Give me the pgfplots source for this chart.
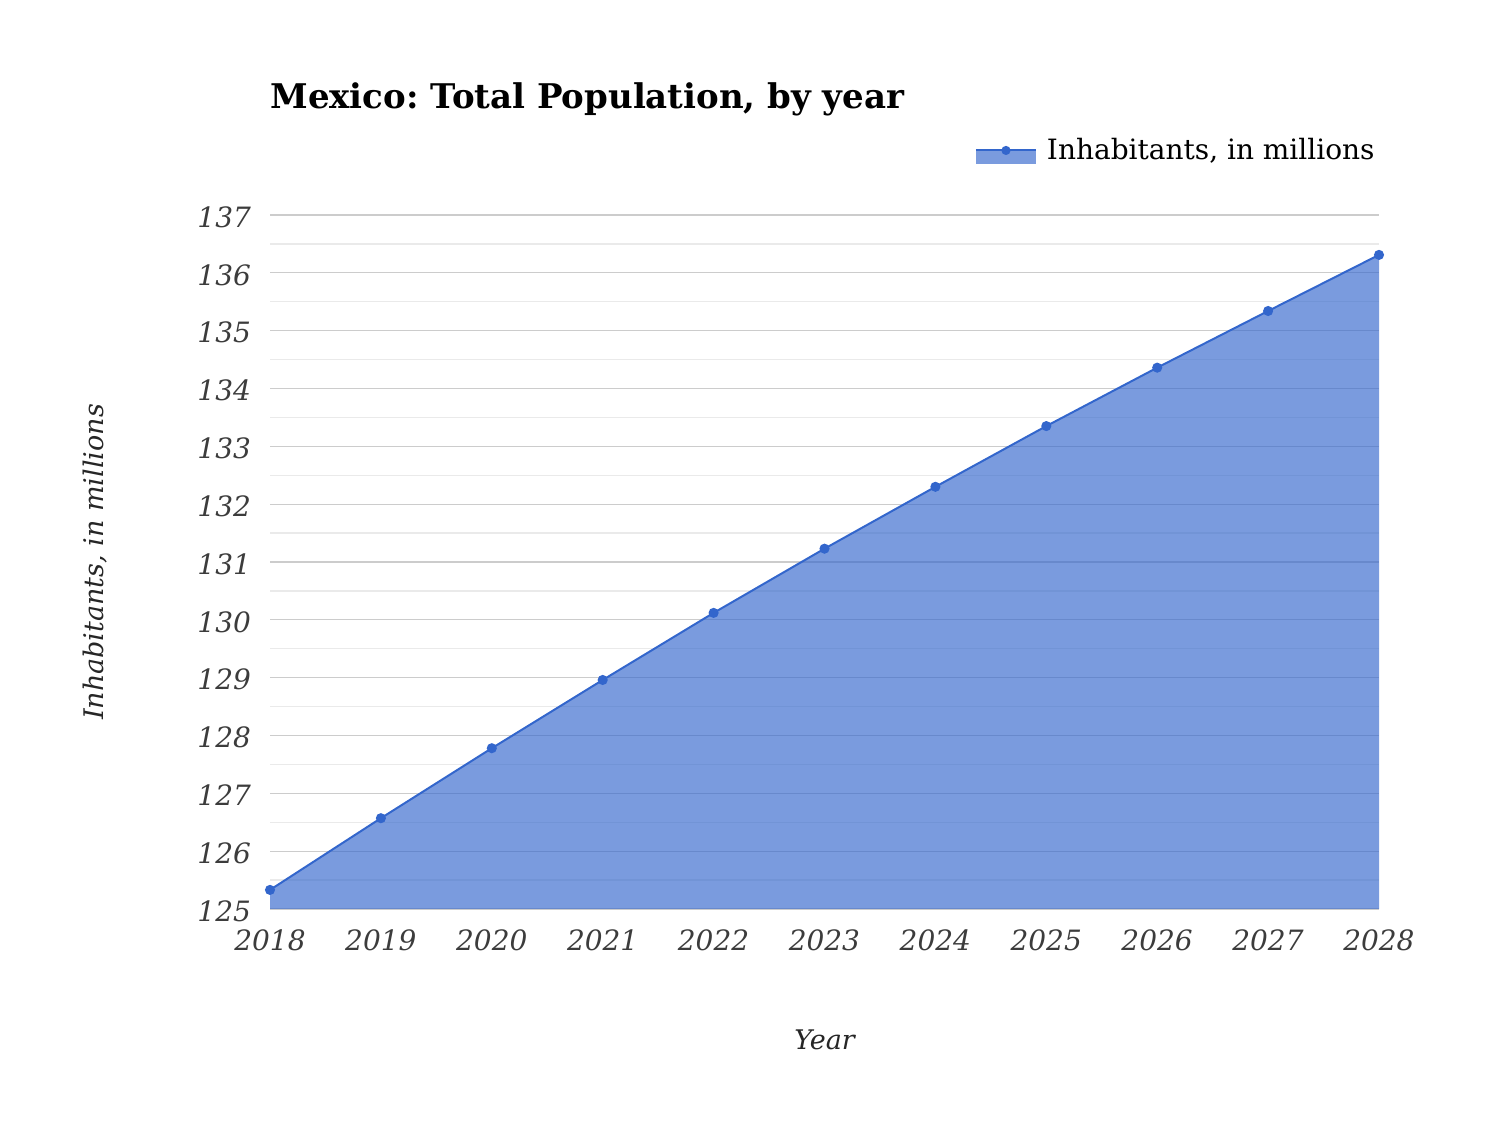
\documentclass[border=0pt]{standalone}
\usepackage{pgfplots}
\pgfplotsset{compat=1.18}
\usepackage{fontspec}
\setmainfont{DejaVu Serif}
\frenchspacing
\definecolor{lineblue}{RGB}{51,102,204}
\definecolor{gridmaj}{RGB}{204,204,204}
\definecolor{gridmin}{RGB}{234,234,234}
\definecolor{ticktext}{RGB}{60,60,60}

\begin{document}
\begin{tikzpicture}
\useasboundingbox (0pt,0pt) rectangle (750pt,562.5pt);
\node[anchor=base west,inner sep=0pt,font=\bfseries\fontsize{17}{20}\selectfont] at (135pt,508pt) {Mexico: Total Population, by year};
\begin{axis}[
    at={(135pt,108pt)}, anchor=south west,
    scale only axis,
    width=554.5pt, height=347pt,
    xmin=2018, xmax=2028,
    ymin=125, ymax=137,
    xtick={2018,...,2028},
    ytick={125,...,137},
    minor y tick num=1,
    x tick label style={/pgf/number format/1000 sep={}},
    /pgf/number format/assume math mode=true,
    tick label style={font=\itshape\fontsize{14}{16}\selectfont, text=ticktext},
    yticklabel style={xshift=-6pt, yshift=-1pt},
    xticklabel style={yshift=-7pt},
    ymajorgrids, yminorgrids,
    major grid style={gridmaj, line width=0.6pt},
    minor grid style={gridmin, line width=0.6pt},
    axis line style={draw=none},
    major tick length=0pt, minor tick length=0pt,
    xlabel={Year},
    ylabel={Inhabitants, in millions},
    label style={font=\itshape\fontsize{13.5}{15}\selectfont, text=black!85},
    xlabel style={at={(axis description cs:0.5,-0.189)}, anchor=center},
    ylabel style={at={(axis description cs:-0.158,0.5)}, anchor=center},
    legend style={at={(axis description cs:1,1)}, anchor=south east, yshift=24pt,
        draw=none, fill=none, font=\fontsize{14}{16}\selectfont,
        cells={anchor=west}, inner sep=0pt},
    legend image code/.code={
        \path[fill=lineblue, fill opacity=0.65, draw=none] (0pt,-7pt) rectangle (30pt,0pt);
        \draw[lineblue, line width=1pt, fill=none] (0pt,0pt) -- (30pt,0pt);
        \path[fill=lineblue, draw=none] (15pt,0pt) circle (2.3pt);
    },
]
\addplot[fill=lineblue, fill opacity=0.65, draw=none, forget plot] coordinates {
(2018,125.33) (2019,126.57) (2020,127.78) (2021,128.96) (2022,130.12)
(2023,131.23) (2024,132.30) (2025,133.35) (2026,134.36) (2027,135.34) (2028,136.31)
} \closedcycle;
\addplot[lineblue, line width=1pt, mark=*, mark size=2pt, mark options={fill=lineblue}] coordinates {
(2018,125.33) (2019,126.57) (2020,127.78) (2021,128.96) (2022,130.12)
(2023,131.23) (2024,132.30) (2025,133.35) (2026,134.36) (2027,135.34) (2028,136.31)
};
\addlegendentry{\hspace{3pt}Inhabitants, in millions}
\end{axis}
\end{tikzpicture}
\end{document}
